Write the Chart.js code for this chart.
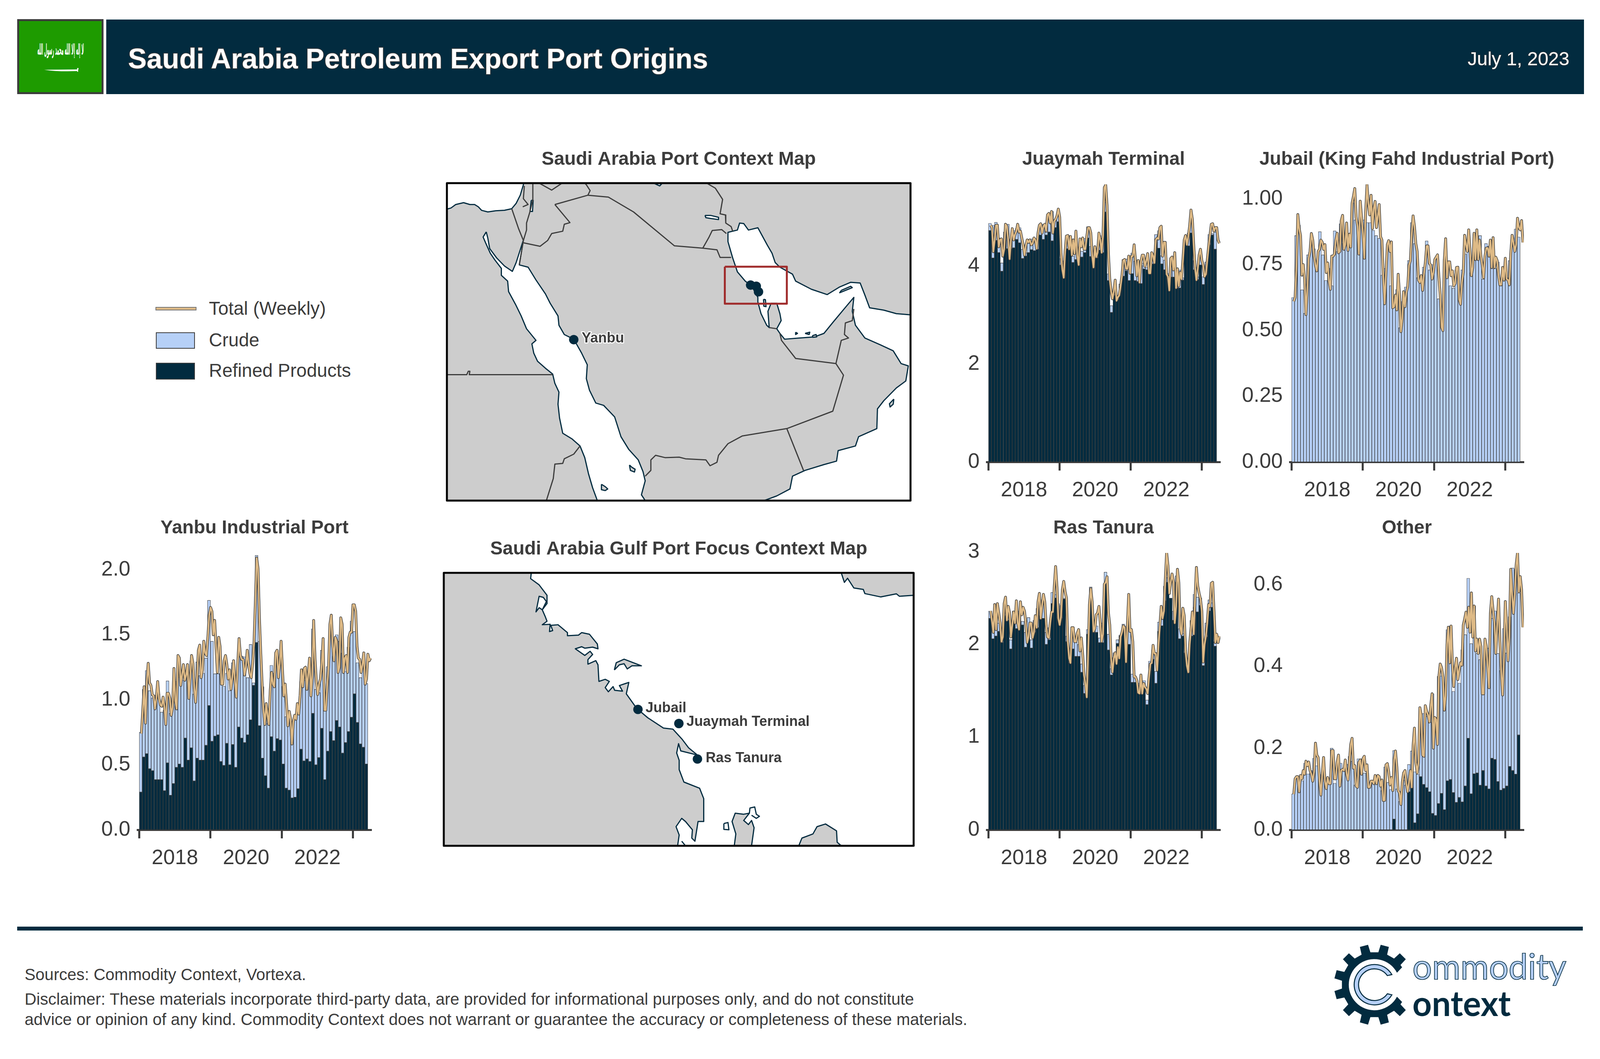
<!DOCTYPE html>
<html>
<head>
<meta charset="utf-8">
<script src="https://cdn.jsdelivr.net/npm/chart.js@4/dist/chart.umd.min.js"></script>
<script>
  // browser may cap the window width, keep the layout proportional to it
  const S = Math.min(1, window.innerWidth / 4749);
  document.documentElement.style.setProperty('--sx', S);
</script>
<style>
  html, body { margin: 0; padding: 0; background: #fff; }
  body { width: calc(4749px * var(--sx)); height: 2712px; position: relative; overflow: hidden; font-family: "Liberation Sans", Arial, sans-serif; color: #3c3c3c; }
  .abs { position: absolute; white-space: nowrap; }
  canvas { position: absolute; }
  .bar { background: #022b3f; }
  .legend { left: calc(620px * var(--sx)); line-height: 70px; font-size: calc(55px * var(--sx)); }
  .swatch { left: calc(463px * var(--sx)); width: calc(111px * var(--sx)); }
</style>
</head>
<body>
<div class="abs" style="left:calc(51px*var(--sx));top:49px;width:calc(245px*var(--sx));height:182px;background:#1e9b00;border:5px solid #3c3c3c"></div>
<svg class="abs" style="left:calc(51px*var(--sx));top:49px;width:calc(255px*var(--sx));height:192px" viewBox="0 0 255 192">
  <text x="129" y="90" text-anchor="middle" fill="#fff" font-family="DejaVu Sans" font-weight="bold" font-size="44" textLength="138" lengthAdjust="spacingAndGlyphs" direction="rtl">لا إله إلا الله محمد رسول الله</text>
  <path d="M80 135 L178 134 L178 130 L182 130 L182 134 L181 134 L181 141 L178 141 L178 139 Q120 141 80 135 Z" fill="#fff"/>
</svg>
<div class="abs bar" style="left:calc(315px*var(--sx));top:50px;width:calc(4386px*var(--sx));height:191px"></div>
<div class="abs" style="left:calc(380px*var(--sx));top:100px;line-height:100px;font-size:calc(83px*var(--sx));font-weight:bold;color:#fff;-webkit-text-stroke:3px #3c3c3c;paint-order:stroke fill">Saudi Arabia Petroleum Export Port Origins</div>
<div class="abs" style="right:calc(91px*var(--sx));top:110px;line-height:80px;font-size:calc(56px*var(--sx));color:#fff;-webkit-text-stroke:2px #3c3c3c;paint-order:stroke fill">July 1, 2023</div>

<div class="abs" style="left:calc(461px*var(--sx));top:786px;width:calc(118px*var(--sx));height:5px;background:#deba86;border:2px solid #777"></div>
<div class="abs swatch" style="top:851px;height:38px;background:#b6d0f7;border:2px solid #3c3c3c"></div>
<div class="abs swatch" style="top:929px;height:39px;background:#022b3f;border:2px solid #3c3c3c"></div>
<div class="abs legend" style="top:755px">Total (Weekly)</div>
<div class="abs legend" style="top:836px">Crude</div>
<div class="abs legend" style="top:914px">Refined Products</div>

<div class="abs bar" style="left:calc(51px*var(--sx));top:2373px;width:calc(4647px*var(--sx));height:10px"></div>
<div class="abs" style="left:calc(73px*var(--sx));top:2466px;line-height:60px;font-size:calc(48.5px*var(--sx))">Sources: Commodity Context, Vortexa.</div>
<div class="abs" style="left:calc(73px*var(--sx));top:2533px;line-height:52px;font-size:calc(48.5px*var(--sx))">Disclaimer: These materials incorporate third-party data, are provided for informational purposes only, and do not constitute<br>advice or opinion of any kind. Commodity Context does not warrant or guarantee the accuracy or completeness of these materials.</div>

<svg class="abs" style="left:calc(3900px*var(--sx));top:2340px;width:calc(849px*var(--sx));height:372px" viewBox="0 0 849 372" preserveAspectRatio="xMinYMid meet">
  <path id="gear" fill="#022b3f"/>
  <path id="cmark" fill="#b6d0f7" stroke="#022b3f" stroke-width="3"/>
  <text x="292" y="165" font-family="Lato" font-size="105" fill="#b6d0f7" stroke="#022b3f" stroke-width="2" textLength="457" lengthAdjust="spacingAndGlyphs">ommodity</text>
  <text x="292" y="274" font-family="Lato" font-weight="bold" font-size="105" fill="#022b3f" textLength="292" lengthAdjust="spacingAndGlyphs">ontext</text>
</svg>

<script>
// monthly bars Jan 2017 - May 2023
const yanbuRefined = [.29,.56,.585,.47,.455,.385,.385,.385,.30,.515,
  .265,.355,.48,.505,.48,.705,.535,.63,.375,.55,
  .535,.535,.65,.955,.68,.72,.73,.525,.495,.665,
  .50,.655,.48,.79,.705,.67,.73,.845,1.11,1.44,
  .80,.55,.415,.32,.715,.605,.70,.69,.505,.32,
  .305,.245,.25,.315,.62,.53,.545,.525,.895,.50,
  .555,.78,.385,.605,.755,.685,.84,.79,.59,.67,
  .755,.865,1.045,.825,.66,.635,.505];
const yanbuCrude = [.46,.52,.64,.60,.56,.65,.66,.52,.62,.63,
  .63,.73,.66,.67,.67,.46,.61,.67,.67,.74,
  .65,.67,.67,.81,.77,.48,.47,.68,.61,.54,
  .57,.63,.60,.57,.63,.66,.44,.58,.02,.67,
  .65,.55,.47,.50,.55,.60,.58,.61,.60,.55,
  .55,.56,.62,.59,.52,.62,.66,.63,.65,.58,
  .50,.60,.59,.65,.79,.65,.66,.66,.77,.55,
  .65,.74,.48,.46,.51,.68,.62];
const yanbuWeekly = [.74,.92,1.10,.82,1.14,1.28,1.13,1.11,1.04,1.03,.93,1.01,1.14,1.01,.96,.95,1.02,.94,.81,1.05,
  1.05,1.01,.88,.94,1.24,.99,.93,1.34,1.32,1.11,1.19,1.27,1.15,1.19,1.27,1.01,1.17,1.34,1.28,1.09,
  .98,1.17,1.38,1.42,1.17,1.23,1.45,1.36,1.34,1.48,1.65,1.71,1.68,1.5,1.61,1.41,1.21,1.48,1.41,1.12,
  1.12,1.3,1.34,1.27,1.16,1.23,1.08,1.17,1.3,1.14,1.02,1.27,1.47,1.34,1.31,1.31,1.19,1.25,1.38,1.28,
  1.2,1.17,1.28,1.43,1.74,2.09,2.01,1.63,1.36,1.12,.92,.81,.97,.88,.81,1.07,1.21,1.12,1.10,1.36,
  1.38,1.17,1.28,1.45,1.23,1.03,1.12,.97,.80,.91,.85,.66,.83,.88,.85,.97,.89,1.03,1.23,1.10,
  1.24,1.25,1.08,1.19,1.32,1.03,1.19,1.61,1.32,1.14,1.04,1.12,1.16,1.28,1.47,.92,.92,1.10,1.25,1.58,
  1.65,1.43,1.30,1.48,1.45,1.21,1.25,1.63,1.58,1.21,1.32,1.34,1.21,1.48,1.52,1.52,1.73,1.73,1.68,1.41,
  1.32,1.31,1.21,1.27,1.36,1.12,1.16,1.35,1.30,1.32];

const juaymahRefined = [4.72,4.16,4.52,4.27,3.89,4.53,4.35,4.35,4.37,4.54,
  4.47,4.15,4.2,4.27,4.33,4.31,4.34,4.63,4.54,4.63,
  4.69,4.51,4.78,4.9,4.02,4.04,4.35,4.32,4.07,4.13,
  4.01,4.18,4.27,4.57,4.19,4.08,4.16,4.32,4.27,5.1,
  3.7,3.05,3.4,3.31,3.57,3.79,3.9,3.7,3.84,3.7,
  3.68,3.64,3.94,3.92,3.97,4.04,4.49,4.36,4.04,3.92,
  3.8,3.77,3.77,3.55,3.55,3.71,4.46,4.41,4.67,3.92,
  3.72,4.02,3.62,3.9,4.43,4.63,4.34];
const juaymahCrude = [.15,.67,.37,.30,.17,.16,.50,.15,.35,.22,
  .31,.19,.07,.27,.22,.24,.19,.22,.31,.06,
  .33,.60,.15,.17,.13,.06,.20,.30,.13,.16,
  .38,.12,.29,.23,.21,.14,.13,.30,.30,.20,
  .14,.14,.15,.09,.06,.34,.24,.50,.42,.40,
  .26,.37,.12,.05,.07,.16,.15,.36,.17,.20,
  .05,.25,.31,.39,.37,.05,.16,.26,.33,.19,
  .06,.18,.16,.18,.21,.03,.35];
const juaymahWeekly = [4.83,4.78,4.29,4.53,4.83,4.83,4.39,4.53,4.55,4.2,4.34,4.85,4.81,4.53,4.14,4.53,4.76,4.53,4.64,4.71,
  4.85,4.69,4.71,4.57,4.43,4.22,4.41,4.53,4.48,4.53,4.43,4.46,4.57,4.53,4.35,4.67,4.83,4.86,4.67,4.81,
  4.85,4.71,5.04,5.07,4.88,5.11,4.67,4.91,4.95,5.02,5.16,5.0,4.25,3.92,3.76,4.29,4.61,4.62,4.34,4.6,
  4.22,4.53,4.25,4.71,4.2,4.02,4.55,4.39,4.57,4.34,4.34,4.6,4.78,4.78,4.67,4.22,3.97,4.39,4.18,4.27,
  4.67,4.53,4.27,4.62,5.6,5.65,5.23,4.25,3.73,3.48,3.33,3.48,3.71,3.29,3.36,3.4,3.59,3.8,4.11,4.13,
  3.94,3.94,4.2,3.85,4.2,4.2,4.43,4.11,3.8,4.11,3.66,4.08,4.22,4.22,3.99,4.11,4.25,3.85,3.85,4.27,
  4.2,4.06,4.53,4.57,4.55,4.78,4.81,4.2,4.48,4.48,3.83,3.78,3.5,4.15,4.18,3.92,4.27,3.55,3.94,3.59,
  3.87,3.73,4.11,4.53,4.62,4.43,4.6,4.81,5.14,4.95,4.43,3.97,3.71,3.94,4.22,4.34,4.11,4.01,3.78,3.83,
  4.11,4.39,4.62,4.85,4.86,4.71,4.78,4.78,4.53,4.46];

const jubailRefined = [0,0,0,0,0,0,0,0,0,0,0,0,0,0,0,0,0,0,0,0,0,0,0,0,0,0,0,0,0,0,0,0,0,0,0,0,0,0,0,0,0,0,0,0,0,0,0,0,0,0,0,0,0,0,0,0,0,0,0,0,0,0,0,0,0,0,0,0,0,0,0,0,0,0,0,0,0];
const jubailCrude = [.625,.86,.90,.654,.565,.787,.836,.81,.75,.875,
  .787,.69,.735,.67,.878,.80,.905,.83,.84,.82,
  .985,.92,.90,.91,.92,.91,.91,.88,.86,.85,
  .71,.735,.82,.67,.60,.655,.51,.61,.665,.765,
  .91,.83,.70,.69,.74,.84,.73,.75,.77,.62,
  .59,.77,.74,.67,.66,.73,.62,.73,.79,.82,
  .72,.865,.78,.86,.695,.83,.82,.735,.735,.76,
  .67,.695,.70,.765,.82,.885,.855];
const jubailWeekly = [.61,.625,.745,.94,.887,.86,.71,.75,.695,.56,.656,.774,.80,.868,.843,.782,.747,.726,.80,.808,
  .843,.835,.808,.826,.72,.756,.686,.656,.782,.782,.79,.843,.869,.795,.80,.917,.937,.808,.826,.908,
  .804,.865,.817,.983,1.009,1.039,.93,.895,.79,.991,.93,.869,.774,.948,1.052,.983,.939,1.013,.887,.963,
  .99,.891,.935,.978,.856,.843,.704,.601,.713,.826,.841,.80,.836,.586,.59,.634,.578,.713,.634,.495,
  .543,.647,.59,.643,.665,.747,.765,.869,.935,.895,.83,.80,.691,.682,.708,.652,.713,.756,.821,.821,
  .756,.747,.695,.721,.769,.778,.787,.704,.634,.512,.499,.765,.848,.70,.76,.76,.708,.726,.669,.678,
  .739,.74,.617,.599,.682,.721,.861,.826,.80,.882,.80,.708,.739,.869,.769,.882,.769,.843,.782,.747,
  .70,.782,.813,.813,.782,.843,.739,.852,.739,.778,.765,.708,.673,.673,.739,.691,.774,.695,.691,.673,
  .791,.861,.834,.80,.826,.926,.891,.882,.917,.834];

const rasTanuraRefined = [2.28,2.06,2.09,2.14,2.02,2.31,2.26,1.95,2.25,2.17,
  2.26,2.21,1.97,2.13,1.96,2.13,2.18,2.31,2.28,2.0,
  2.05,2.44,2.5,2.28,2.28,2.49,2.03,1.8,1.95,1.87,
  1.87,1.7,1.47,2.11,2.45,2.13,2.13,2.02,2.02,2.67,
  1.94,1.67,1.85,2.01,2.09,2.18,2.06,2.0,1.59,1.59,
  1.49,1.47,1.53,1.35,1.72,1.84,1.58,2.14,2.2,2.47,
  2.67,2.5,2.26,2.67,2.06,2.09,1.9,1.7,2.09,2.4,
  2.35,2.42,1.77,2.08,2.36,2.4,1.98];
const rasTanuraCrude = [.08,.19,.26,.09,.11,.07,.07,.10,.11,.19,
  .10,.04,.16,.16,.09,.13,.21,.17,.19,.13,
  .13,.12,.04,.16,.14,.01,.06,.05,.13,.15,
  .13,.09,.09,.05,.17,.09,.07,.05,.21,.11,
  .17,.07,.06,.04,.01,.04,.14,.20,.09,.06,
  .09,.13,.08,.05,.10,.10,.13,.10,.15,.16,
  .05,0,.10,.07,.11,.03,.01,.06,.17,.14,
  .16,.08,.09,.15,.12,.05,.05];
const rasTanuraWeekly = [2.36,2.25,2.13,2.43,2.16,2.44,2.34,2.23,2.03,2.08,2.44,2.51,2.26,2.41,2.34,2.08,2.21,2.35,2.23,2.47,
  2.23,2.16,2.46,2.32,2.4,2.36,2.23,2.02,2.08,2.23,2.23,2.07,2.13,2.31,2.18,2.46,2.55,2.28,2.42,2.54,
  2.46,2.21,2.08,2.07,2.23,2.35,2.35,2.62,2.84,2.62,2.28,2.21,2.3,2.59,2.68,2.57,2.5,2.03,1.85,1.8,
  2.18,2.18,2.03,2.03,2.12,2.16,1.93,2.07,1.89,1.67,1.57,1.43,1.9,2.43,2.6,2.46,2.14,2.17,2.32,2.34,
  2.41,2.23,2.03,2.11,2.65,2.67,2.73,2.34,2.21,1.85,1.7,1.85,1.91,1.79,1.97,1.85,2.08,2.13,2.2,2.18,
  1.81,2.2,2.54,2.14,2.16,2.03,1.65,1.65,1.61,1.48,1.47,1.67,1.47,1.58,1.54,1.52,1.47,1.65,1.79,1.8,
  1.99,1.9,1.9,1.72,2.0,2.2,2.41,2.28,2.36,2.69,2.99,2.85,2.55,2.67,2.76,2.68,2.23,2.41,2.81,2.67,
  2.18,2.11,2.39,2.31,1.93,1.77,1.7,2.0,2.17,2.35,2.11,2.49,2.83,2.63,2.55,2.49,2.36,1.81,2.0,2.09,
  2.23,2.43,2.41,2.66,2.67,2.36,2.02,2.11,2.02,2.09];

const otherRefined = [0,0,0,0,0,0,0,0,0,0,
  0,0,0,0,0,0,0,0,0,0,
  0,0,0,0,0,0,0,0,0,0,
  0,0,0,0,.026,0,0,0,0,.093,
  .103,.017,.039,.13,.111,.103,.093,.04,.035,.064,
  .089,.049,.12,.123,.091,.067,.079,.068,.107,.224,
  .088,.137,.139,.109,.145,.107,.10,.175,.172,.118,
  .097,.101,.107,.155,.145,.136,.232];
const otherCrude = [.088,.125,.10,.12,.163,.137,.145,.175,.157,.135,
  .125,.122,.125,.20,.114,.157,.163,.148,.16,.18,
  .168,.11,.174,.174,.139,.139,.113,.119,.125,.125,
  .096,.154,.116,.099,.168,.10,.07,.122,.11,.067,
  .09,.125,.097,.145,.174,.175,.171,.293,.24,.312,
  .288,.271,.37,.376,.248,.319,.28,.373,.371,.392,
  .368,.411,.293,.308,.188,.31,.345,.343,.364,.314,
  .293,.392,.326,.367,.496,.502,.348];
const otherWeekly = [.087,.125,.13,.13,.093,.133,.125,.145,.136,.168,.157,.166,.145,.136,.119,.142,.212,.183,.177,.119,
  .085,.136,.177,.119,.101,.128,.113,.113,.194,.194,.125,.125,.165,.183,.107,.145,.148,.145,.171,.136,
  .122,.165,.209,.224,.151,.157,.107,.104,.165,.171,.136,.174,.18,.145,.159,.104,.104,.119,.119,.113,
  .133,.113,.133,.13,.107,.122,.072,.072,.159,.162,.142,.11,.128,.096,.171,.193,.154,.096,.09,.062,
  .116,.139,.145,.113,.093,.116,.145,.104,.206,.249,.165,.139,.165,.299,.281,.183,.18,.304,.29,.281,
  .264,.304,.333,.20,.275,.27,.209,.374,.406,.397,.374,.293,.328,.455,.496,.409,.499,.403,.351,.397,
  .42,.368,.391,.409,.403,.501,.516,.533,.496,.545,.484,.58,.472,.548,.438,.467,.432,.467,.449,.333,
  .333,.467,.449,.397,.348,.53,.571,.536,.507,.432,.501,.565,.461,.386,.33,.42,.559,.501,.414,.472,
  .638,.577,.53,.577,.649,.678,.583,.62,.588,.496];

const xTickYears = [2018, 2020, 2022];

// map outlines, in map grid units
const medSea = [[42,148],[285,148],[285,155],[275,200],[262,235],[248,258],[225,265],[197,267],[172,272],[152,265],[142,250],[130,240],[115,240],[95,232],[70,240],[55,255],[42,260]];
const redSea = [[167,358],[157,380],[165,405],[180,450],[195,480],[215,515],[215,545],[235,570],[238,615],[260,670],[278,720],[295,775],[325,825],[312,840],[318,880],[330,915],[355,945],[378,970],[385,1010],[398,1048],[395,1100],[400,1160],[410,1225],[440,1250],[465,1280],[480,1330],[492,1400],[505,1460],[520,1515],[672,1515],[660,1490],[672,1430],[665,1390],[650,1340],[620,1295],[595,1240],[575,1155],[540,1105],[515,1095],[495,1040],[485,990],[488,930],[470,880],[445,820],[415,800],[398,760],[395,720],[370,665],[355,625],[325,565],[300,510],[272,500],[285,393],[262,490],[250,528],[225,505],[200,470],[178,430],[172,385]];
const gulf = [[935,400],[950,470],[965,530],[990,570],[1010,590],[1030,640],[1030,660],[1040,710],[1058,760],[1066,770],[1062,700],[1072,665],[1090,665],[1100,710],[1104,740],[1090,775],[1100,795],[1115,820],[1160,815],[1210,810],[1240,795],[1270,745],[1310,680],[1335,640],[1330,700],[1340,760],[1370,815],[1420,845],[1460,870],[1485,925],[1508,935],[1500,1000],[1470,1030],[1430,1085],[1410,1120],[1408,1205],[1350,1240],[1340,1280],[1285,1300],[1280,1345],[1240,1360],[1180,1385],[1140,1410],[1132,1465],[1090,1495],[1050,1515],[1515,1515],[1515,715],[1470,710],[1430,695],[1385,685],[1370,630],[1355,578],[1325,575],[1290,595],[1250,628],[1200,605],[1150,570],[1140,540],[1100,510],[1085,490],[1075,450],[1060,415],[1030,340],[1000,350],[985,322],[972,320],[965,350],[935,360]];
const lakeTharthar = [[862,287],[880,287],[905,295],[905,305],[880,300],[865,297]];
const deadSea = [[310,222],[316,222],[314,270],[306,270]];
const caspianEdge = [[702,150],[725,150],[718,160]];
const islandsMain = [
  [[1048,648],[1054,650],[1056,680],[1049,678]],
  [[622,1362],[630,1372],[640,1380],[638,1392],[625,1385]],
  [[533,1445],[545,1455],[553,1465],[545,1472],[533,1468]],
  [[1462,1078],[1460,1100],[1450,1112],[1448,1098]],
  [[1150,790],[1156,795],[1150,800]],
  [[1180,795],[1195,790],[1193,800]],
  [[1203,805],[1215,800],[1217,810],[1205,812]],
  [[1295,610],[1325,592],[1330,598],[1290,620]]
];
const landBorders = [
  [[385,240],[490,200],[555,208],[635,272],[765,418],[855,428],[900,435],[910,468],[945,468]],
  [[855,428],[875,380],[885,352],[915,348],[930,365]],
  [[285,405],[338,420],[362,395],[375,365],[410,355],[415,325],[433,318],[385,240]],
  [[490,200],[497,180],[485,155],[480,148]],
  [[335,148],[375,178],[408,148]],
  [[870,150],[895,170],[918,218],[910,280],[927,285],[928,320],[945,335],[950,355]],
  [[248,258],[270,345],[285,395]],
  [[315,148],[315,220],[305,275],[295,320],[295,350],[285,395],[272,500]],
  [[288,160],[285,215],[300,240],[283,250]],
  [[42,973],[105,973],[110,958],[115,958],[113,973],[378,973]],
  [[358,1515],[380,1420],[385,1358],[410,1355],[415,1335],[445,1315],[465,1280]],
  [[1122,1205],[980,1237],[935,1270],[905,1320],[900,1350],[878,1365],[865,1340],[800,1335],[780,1328],[735,1330],[705,1320],[690,1340],[690,1385],[672,1410]],
  [[1122,1205],[1268,1130],[1302,975],[1278,925]],
  [[1122,1205],[1175,1385]],
  [[1100,795],[1105,825],[1150,903],[1278,925]],
  [[1278,925],[1295,825],[1318,815],[1305,800],[1308,750],[1330,740],[1335,690]],
  [[1066,770],[1090,775]]
];
const focusBox = [[925,508],[1122,508],[1122,667],[925,667],[925,508]];
const mainPorts = ['Yanbu', '', '', ''];
const mainPortX = [445, 1007, 1025, 1032];
const mainPortY = [822, 587, 592, 616];
const mainLabelX = [470];
const mainLabelY = [818];

const focusSea = [[310,182],[308,210],[335,240],[360,290],[360,330],[345,360],[355,395],[360,415],[345,432],[370,430],[368,465],[378,460],[372,435],[395,432],[425,470],[425,485],[460,482],[470,470],[495,478],[520,525],[522,548],[505,540],[480,545],[470,538],[450,548],[480,580],[497,560],[505,575],[490,600],[490,622],[515,605],[522,625],[525,705],[545,695],[558,705],[545,735],[555,755],[570,730],[575,748],[600,752],[590,725],[610,715],[620,710],[612,765],[645,835],[680,880],[730,930],[760,935],[790,985],[810,1025],[838,1060],[785,1040],[778,1005],[772,1050],[780,1085],[780,1130],[795,1190],[845,1220],[858,1270],[858,1380],[840,1380],[830,1475],[820,1460],[822,1420],[800,1380],[788,1365],[770,1405],[780,1445],[775,1497],[955,1497],[960,1440],[948,1380],[958,1340],[985,1345],[1003,1340],[985,1375],[1000,1395],[1010,1375],[1018,1410],[1010,1497],[1160,1497],[1170,1460],[1205,1440],[1218,1405],[1245,1392],[1280,1425],[1282,1480],[1295,1497],[1525,1497],[1525,290],[1480,295],[1470,283],[1420,298],[1370,282],[1365,262],[1335,255],[1315,208],[1305,228],[1295,182]];
const focusInlet = [[345,360],[358,320],[348,300],[335,295],[325,370],[335,350]];
const focusIslands = [
  [[574,650],[580,615],[605,598],[660,630],[630,630],[615,645],[605,620],[590,625]]
];
const focusOutlines = [
  [[1003,1340],[1005,1315],[1020,1310],[1025,1345],[1035,1355],[1025,1365],[1010,1350]],
  [[922,1390],[935,1385],[938,1420],[922,1418],[922,1390]],
  [[788,1475],[800,1497]]
];
const focusPorts = ['Jubail', 'Juaymah Terminal', 'Ras Tanura'];
const focusPortX = [649, 779, 838];
const focusPortY = [840, 908, 1079];
const focusLabelX = [673, 803, 864];
const focusLabelY = [835, 900, 1075];

const NAVY = '#022b3f', LIGHT = '#b6d0f7', TAN = '#deba86', EDGE = '#3c3c3c';
Chart.defaults.font.family = '"Liberation Sans", Arial, sans-serif';
Chart.defaults.color = EDGE;

function monthX(i) { return 2017 + (i + 0.5) / 12; }

function addCanvas(left, top, width, height) {
  const c = document.createElement('canvas');
  c.width = Math.round(width); c.height = Math.round(height);
  c.style.left = Math.round(left) + 'px'; c.style.top = Math.round(top) + 'px';
  document.body.appendChild(c);
  return c;
}

function portChart(title, box, refined, crude, weekly, yTicks, yMax, decimals) {
  const titleSize = 55.5 * S, tickSize = 62 * S;
  const padX = Math.round(170 * S), padT = Math.round(63 + titleSize / 2), padB = 110;
  const w = (box.right - box.left) * S, h = box.bottom - box.top;
  const canvas = addCanvas(box.left * S - padX, box.top - padT, w + padX * 2, h + padT + padB);
  const bars = (vals) => vals.map((v, i) => ({ x: monthX(i), y: v }));
  const line = weekly.map((v, i) => ({ x: 2017.06 + i * (2023.495 - 2017.06) / (weekly.length - 1), y: v }));
  // neighbouring bars share an edge, so each bar only carries half of it
  const barStyle = { type: 'bar', stack: 'bars', barThickness: 8.8 * S, borderWidth: 1.1, borderColor: EDGE, borderSkipped: false };
  new Chart(canvas, {
    type: 'bar',
    data: { datasets: [
      { ...barStyle, label: 'Refined Products', data: bars(refined), backgroundColor: NAVY, order: 2 },
      { ...barStyle, label: 'Crude', data: bars(crude), backgroundColor: LIGHT, order: 3 },
      { type: 'line', stack: 'edge', label: 'Total edge', data: line, borderColor: EDGE, borderWidth: 8 * S, pointRadius: 0, tension: 0, borderJoinStyle: 'round', order: 1 },
      { type: 'line', stack: 'total', label: 'Total (Weekly)', data: line, borderColor: TAN, borderWidth: 4.8 * S, pointRadius: 0, tension: 0, borderJoinStyle: 'round', order: 0 }
    ] },
    options: {
      responsive: false, animation: false, devicePixelRatio: 1,
      plugins: {
        legend: { display: false }, tooltip: { enabled: false },
        title: { display: true, text: title, color: EDGE, font: { size: titleSize, weight: 'bold', lineHeight: 1 }, padding: { top: 0, bottom: padT - titleSize } }
      },
      scales: {
        x: {
          type: 'linear', stacked: true, min: 2016.95, max: 2023.52, offset: false,
          afterBuildTicks: s => { s.ticks = xTickYears.map(v => ({ value: v })); },
          afterFit: s => { s.height = padB; },
          border: { display: true, color: EDGE, width: 5 },
          grid: { display: true, drawOnChartArea: false, drawTicks: true, tickLength: 22, tickWidth: 6 * S, tickColor: EDGE },
          ticks: { autoSkip: false, maxRotation: 0, padding: 19, color: EDGE, font: { size: tickSize }, callback: v => String(v) }
        },
        y: {
          stacked: true, min: 0, max: yMax,
          afterBuildTicks: s => { s.ticks = yTicks.map(v => ({ value: v })); },
          afterFit: s => { s.width = padX; },
          border: { display: false }, grid: { display: false },
          ticks: { autoSkip: false, padding: 12 * S, color: EDGE, font: { size: tickSize }, callback: v => v.toFixed(decimals) }
        },
        // empty axis so the title centres over the plot
        yRight: {
          axis: 'y', position: 'right',
          afterFit: s => { s.width = padX; },
          border: { display: false }, grid: { display: false }, ticks: { display: false }
        }
      }
    }
  });
}

const closeRing = pts => pts.concat([pts[0]]).map(p => ({ x: p[0], y: p[1] }));
const openPath = pts => pts.map(p => ({ x: p[0], y: p[1] }));

function mapChart(title, box, range, water, isles, lines, outlines, extras, ports) {
  const titleSize = 55.5 * S;
  const padT = Math.round(60 + titleSize / 2), pad = 6;
  const canvas = addCanvas(box.left * S - pad, box.top - padT, (box.right - box.left) * S + pad * 2, box.bottom - box.top + padT + pad);
  const sets = [];
  const poly = { type: 'scatter', showLine: true, pointRadius: 0, tension: 0, borderJoinStyle: 'round' };
  water.forEach(p => sets.push({ ...poly, data: closeRing(p), backgroundColor: '#fff', fill: 'shape', borderColor: NAVY, borderWidth: 3 }));
  isles.forEach(p => sets.push({ ...poly, data: closeRing(p), backgroundColor: '#cdcdcd', fill: 'shape', borderColor: NAVY, borderWidth: 3 }));
  outlines.forEach(p => sets.push({ ...poly, data: openPath(p), borderColor: NAVY, borderWidth: 3, fill: false }));
  lines.forEach(p => sets.push({ ...poly, data: openPath(p), borderColor: EDGE, borderWidth: 3, fill: false }));
  extras.forEach(e => sets.push({ ...poly, data: openPath(e.pts), borderColor: e.color, borderWidth: e.width, fill: false }));
  sets.push({ type: 'scatter', data: ports.x.map((v, i) => ({ x: v, y: ports.y[i] })), pointRadius: 14 * S, backgroundColor: NAVY, borderWidth: 0 });
  sets.forEach((s, i) => { s.order = sets.length - i; });
  const frame = {
    id: 'frame',
    beforeDatasetsDraw(chart) {
      const { ctx, chartArea: a } = chart;
      ctx.save(); ctx.fillStyle = '#cdcdcd';
      ctx.fillRect(a.left, a.top, a.width, a.height);
      ctx.restore();
    },
    afterDatasetsDraw(chart) {
      const { ctx, chartArea: a, scales } = chart;
      ctx.save();
      ctx.font = 'bold ' + (42 * S) + 'px "Liberation Sans"';
      ctx.textBaseline = 'middle';
      ctx.lineJoin = 'round';
      ports.labels.forEach((t, i) => {
        if (!t) return;
        const px = scales.x.getPixelForValue(ports.labelX[i]);
        const py = scales.y.getPixelForValue(ports.labelY[i]);
        ctx.strokeStyle = '#fff'; ctx.lineWidth = 5; ctx.strokeText(t, px, py);
        ctx.fillStyle = EDGE; ctx.fillText(t, px, py);
      });
      ctx.strokeStyle = '#000'; ctx.lineWidth = 5;
      ctx.strokeRect(a.left, a.top, a.width, a.height);
      ctx.restore();
    }
  };
  new Chart(canvas, {
    type: 'scatter',
    data: { datasets: sets },
    plugins: [frame],
    options: {
      responsive: false, animation: false, devicePixelRatio: 1,
      layout: { padding: { left: pad, right: pad, bottom: pad } },
      plugins: {
        legend: { display: false }, tooltip: { enabled: false },
        title: { display: true, text: title, fullSize: false, color: EDGE, font: { size: titleSize, weight: 'bold', lineHeight: 1 }, padding: { top: 0, bottom: padT - titleSize } }
      },
      scales: {
        x: { display: false, min: range.x0, max: range.x1 },
        y: { display: false, reverse: true, min: range.y0, max: range.y1 }
      }
    }
  });
}

portChart('Yanbu Industrial Port', { left: 408, right: 1102, top: 1416, bottom: 2125 }, yanbuRefined, yanbuCrude, yanbuWeekly, [0, .5, 1, 1.5, 2], 2.129, 1);
portChart('Juaymah Terminal', { left: 2929, right: 3622, top: 472, bottom: 1183 }, juaymahRefined, juaymahCrude, juaymahWeekly, [0, 2, 4], 5.665, 0);
portChart('Jubail (King Fahd Industrial Port)', { left: 3828, right: 4522, top: 472, bottom: 1183 }, jubailRefined, jubailCrude, jubailWeekly, [0, .25, .5, .75, 1], 1.055, 2);
portChart('Ras Tanura', { left: 2929, right: 3622, top: 1416, bottom: 2125 }, rasTanuraRefined, rasTanuraCrude, rasTanuraWeekly, [0, 1, 2, 3], 2.987, 0);
portChart('Other', { left: 3828, right: 4522, top: 1416, bottom: 2125 }, otherRefined, otherCrude, otherWeekly, [0, .2, .4, .6], .678, 1);

mapChart('Saudi Arabia Port Context Map', { left: 1320, right: 2710, top: 469, bottom: 1288 },
  { x0: 42, x1: 1515, y0: 148, y1: 1515 },
  [medSea, redSea, gulf, lakeTharthar, deadSea, caspianEdge], islandsMain, landBorders, [],
  [{ pts: focusBox, color: '#a02c2c', width: 5 }],
  { x: mainPortX, y: mainPortY, labels: mainPorts, labelX: mainLabelX, labelY: mainLabelY });

mapChart('Saudi Arabia Gulf Port Focus Context Map', { left: 1310, right: 2719, top: 1467, bottom: 2172 },
  { x0: 32, x1: 1525, y0: 182, y1: 1497 },
  [focusSea, focusInlet], focusIslands, [], focusOutlines, [],
  { x: focusPortX, y: focusPortY, labels: focusPorts, labelX: focusLabelX, labelY: focusLabelY });

// logo gear, opening on the right side for the C
(function drawLogo() {
  const cx = 179, cy = 181, tip = 120, root = 97, hole = 76;
  const pt = (r, deg) => (cx + r * Math.cos(deg * Math.PI / 180)).toFixed(1) + ' ' + (cy - r * Math.sin(deg * Math.PI / 180)).toFixed(1);
  let d = 'M' + pt(root, 32);
  for (let a = 45; a <= 315; a += 30) {
    d += ' L' + pt(root, a - 8) + ' L' + pt(tip, a - 6) + ' L' + pt(tip, a + 6) + ' L' + pt(root, a + 8);
  }
  d += ' L' + pt(root, 328) + ' L' + pt(hole, 332);
  d += ' A' + hole + ' ' + hole + ' 0 1 1 ' + pt(hole, 28) + ' Z';
  document.getElementById('gear').setAttribute('d', d);
  const c = 'M' + pt(60, 30) + ' A60 60 0 1 0 ' + pt(60, 330) + ' L' + pt(47, 325) + ' A47 47 0 1 1 ' + pt(47, 35) + ' Z';
  document.getElementById('cmark').setAttribute('d', c);
})();
</script>
</body>
</html>
